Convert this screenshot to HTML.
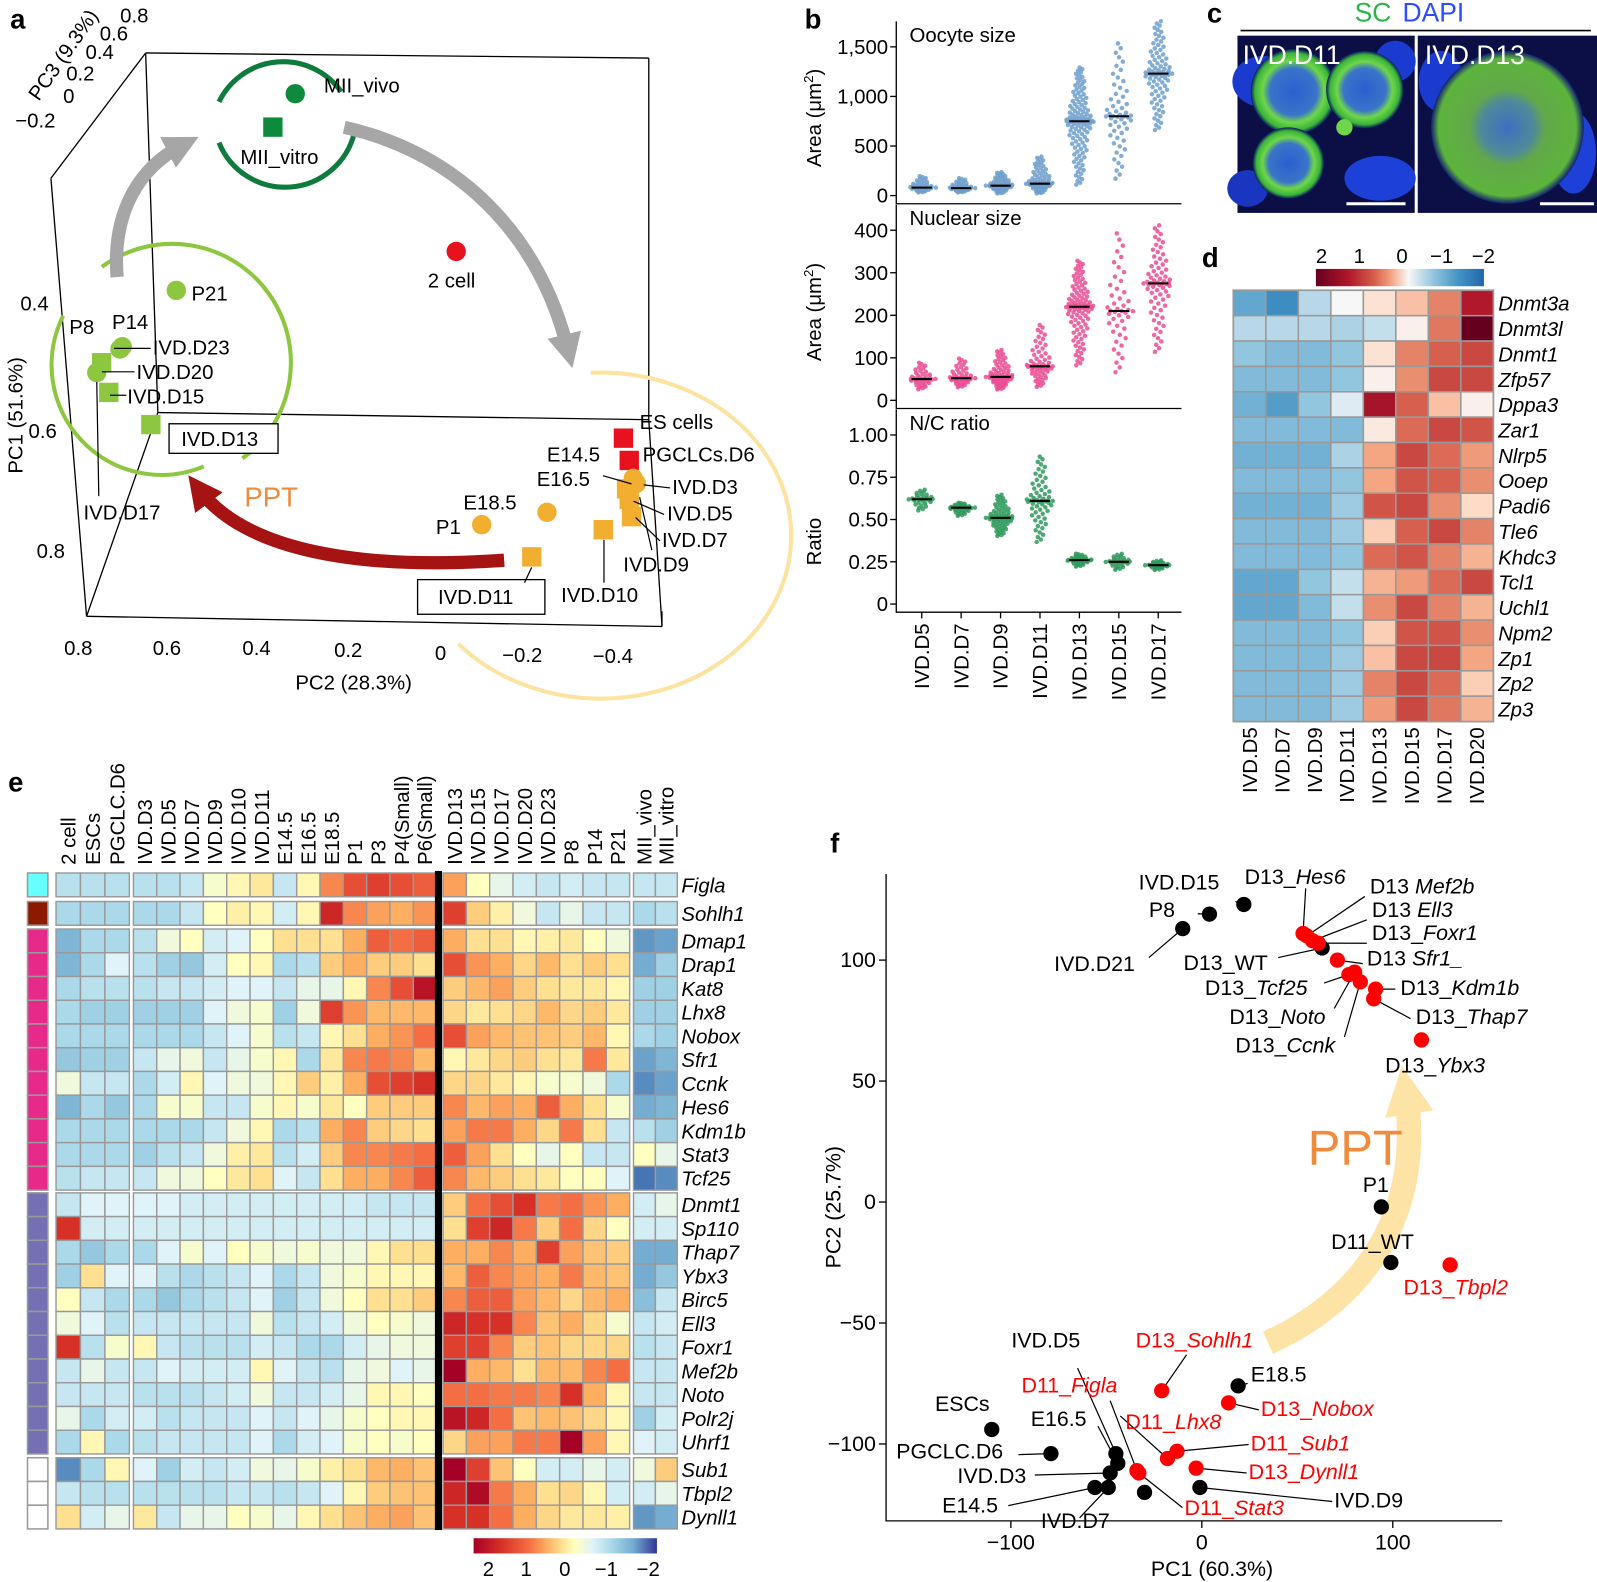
<!DOCTYPE html>
<html><head><meta charset="utf-8">
<style>
html,body{margin:0;padding:0;background:#fff;}
svg{display:block;font-family:"Liberation Sans",Arial,sans-serif;}
</style></head>
<body>
<svg id="fig" width="1597" height="1582" viewBox="0 0 1568 1553" preserveAspectRatio="none" xmlns="http://www.w3.org/2000/svg">
<defs>
<linearGradient id="gradD" x1="0" x2="1" y1="0" y2="0">
<stop offset="0" stop-color="#67001f"/><stop offset="0.2" stop-color="#b2182b"/><stop offset="0.35" stop-color="#d6604d"/><stop offset="0.45" stop-color="#f4a582"/><stop offset="0.55" stop-color="#f7f7f7"/><stop offset="0.7" stop-color="#92c5de"/><stop offset="0.85" stop-color="#4393c3"/><stop offset="1" stop-color="#2166ac"/>
</linearGradient>
<linearGradient id="gradE" x1="0" x2="1" y1="0" y2="0">
<stop offset="0" stop-color="#a50026"/><stop offset="0.15" stop-color="#d73027"/><stop offset="0.3" stop-color="#f46d43"/><stop offset="0.4" stop-color="#fdae61"/><stop offset="0.48" stop-color="#fee090"/><stop offset="0.55" stop-color="#ffffbf"/><stop offset="0.65" stop-color="#e0f3f8"/><stop offset="0.75" stop-color="#abd9e9"/><stop offset="0.87" stop-color="#74add1"/><stop offset="1" stop-color="#313695"/>
</linearGradient>
<radialGradient id="cellG" cx="0.5" cy="0.5" r="0.5"><stop offset="0" stop-color="#2b5fd0"/><stop offset="0.55" stop-color="#3a74c8"/><stop offset="0.72" stop-color="#6fd64a"/><stop offset="0.9" stop-color="#3bb53a"/><stop offset="1" stop-color="#0a1a60"/></radialGradient>
<radialGradient id="bigCell" cx="0.5" cy="0.5" r="0.5"><stop offset="0" stop-color="#3d6fc0"/><stop offset="0.35" stop-color="#4f8a9a"/><stop offset="0.5" stop-color="#62a84a"/><stop offset="0.9" stop-color="#5cb43c"/><stop offset="1" stop-color="#112070"/></radialGradient>
<marker id="arrGray" markerWidth="2.6" markerHeight="2.6" refX="1.3" refY="1.3" orient="auto" markerUnits="strokeWidth"><path d="M0,0 L2.6,1.3 L0,2.6 z" fill="#a6a6a6"/></marker>
<marker id="arrRed" markerWidth="2.6" markerHeight="2.6" refX="1.3" refY="1.3" orient="auto" markerUnits="strokeWidth"><path d="M0,0 L2.6,1.3 L0,2.6 z" fill="#a51313"/></marker>
<marker id="arrYel" markerWidth="2" markerHeight="2" refX="1" refY="1" orient="auto" markerUnits="strokeWidth"><path d="M0,0 L2,1 L0,2 z" fill="#fde3a6"/></marker>
</defs>

<text x="10" y="28" font-size="27" font-weight="bold">a</text>
<text x="790" y="28" font-size="27" font-weight="bold">b</text>
<text x="1185" y="22" font-size="27" font-weight="bold">c</text>
<text x="1180" y="262" font-size="27" font-weight="bold">d</text>
<text x="8" y="777" font-size="27" font-weight="bold">e</text>
<text x="815" y="837" font-size="27" font-weight="bold">f</text>

<g id="panelA" font-size="20">
<g stroke="#000" stroke-width="1.3" fill="none">
<line x1="143" y1="52" x2="637" y2="57"/>
<line x1="637" y1="57" x2="637" y2="412"/>
<line x1="155" y1="405" x2="637" y2="412"/>
<line x1="143" y1="52" x2="155" y2="405"/>
<line x1="50" y1="175" x2="143" y2="52"/>
<line x1="50" y1="175" x2="85" y2="605"/>
<line x1="85" y1="605" x2="650" y2="615"/>
<line x1="85" y1="605" x2="155" y2="405"/>
<line x1="650" y1="615" x2="637" y2="412"/>
</g>
<g font-size="20">
<text x="15" y="125">−0.2</text><text x="62" y="101">0</text><text x="65" y="79">0.2</text><text x="84" y="58">0.4</text><text x="98" y="40">0.6</text><text x="118" y="22">0.8</text>
<text transform="translate(38,100) rotate(-55)">PC3 (9.3%)</text>
</g>
<g>
<text x="20" y="305">0.4</text><text x="28" y="430">0.6</text><text x="36" y="548">0.8</text>
<text transform="translate(22,465) rotate(-90)">PC1 (51.6%)</text>
</g>
<g>
<text x="63" y="643">0.8</text><text x="150" y="643">0.6</text><text x="238" y="643">0.4</text><text x="328" y="645">0.2</text><text x="427" y="648">0</text><text x="493" y="650">−0.2</text><text x="582" y="651">−0.4</text>
<text x="290" y="677">PC2 (28.3%)</text>
</g>
<path d="M215,100 A70,70 0 0 1 335,90 M348,130 A70,70 0 0 1 215,140" stroke="#0e7a3c" stroke-width="5" fill="none"/>
<path d="M100,262 A108,108 0 1 1 238,450 M200,458 A108,108 0 0 1 62,310" stroke="#8dc63f" stroke-width="4" fill="none"/>
<path d="M580,366 A187,160 0 1 1 450,632" stroke="#fde3a0" stroke-width="4" fill="none"/>
<path d="M115,272 C110,210 135,165 180,142" stroke="#a6a6a6" stroke-width="13" fill="none" marker-end="url(#arrGray)"/>
<path d="M338,125 C450,150 530,230 558,345" stroke="#a6a6a6" stroke-width="13" fill="none" marker-end="url(#arrGray)"/>
<path d="M495,550 C350,560 240,540 195,480" stroke="#a51313" stroke-width="13" fill="none" marker-end="url(#arrRed)"/>
<text x="240" y="497" font-size="27" fill="#f08a3c">PPT</text>
<g id="aPoints"></g>
<g id="aLabels">
<text x="318" y="91">MII_vivo</text><text x="236" y="161">MII_vitro</text>
<text x="420" y="282">2 cell</text><text x="188" y="295">P21</text>
<text x="110" y="323">P14</text><text x="68" y="328">P8</text>
<text x="150" y="348">IVD.D23</text><text x="134" y="372">IVD.D20</text><text x="125" y="396">IVD.D15</text>
<rect x="166" y="416" width="107" height="29" fill="#fff" stroke="#000" stroke-width="1.3"/><text x="178" y="438">IVD.D13</text>
<text x="82" y="510">IVD.D17</text>
<text x="628" y="421">ES cells</text><text x="537" y="453">E14.5</text><text x="631" y="453">PGCLCs.D6</text>
<text x="527" y="477">E16.5</text><text x="660" y="485">IVD.D3</text><text x="455" y="500">E18.5</text>
<text x="655" y="511">IVD.D5</text><text x="428" y="524">P1</text><text x="650" y="537">IVD.D7</text>
<text x="612" y="561">IVD.D9</text><text x="551" y="591">IVD.D10</text>
<rect x="410" y="569" width="125" height="34" fill="#fff" stroke="#000" stroke-width="1.3"/><text x="430" y="593">IVD.D11</text>
</g>
<g stroke="#000" stroke-width="1.2">
<line x1="112" y1="342" x2="148" y2="342"/><line x1="100" y1="365" x2="132" y2="365"/><line x1="108" y1="388" x2="124" y2="388"/>
<line x1="95" y1="375" x2="97" y2="487"/><line x1="592" y1="467" x2="620" y2="475"/><line x1="632" y1="476" x2="658" y2="479"/>
<line x1="622" y1="492" x2="652" y2="505"/><line x1="624" y1="508" x2="648" y2="531"/><line x1="628" y1="488" x2="640" y2="540"/>
<line x1="593" y1="530" x2="593" y2="572"/><line x1="522" y1="557" x2="515" y2="572"/><line x1="650" y1="600" x2="650" y2="615"/>
</g>
</g>

<g id="panelB" font-size="20"></g>

<g id="panelC">
<text x="1330" y="21" font-size="26" fill="#2db34a">SC</text>
<text x="1377" y="21" font-size="26" fill="#2b4cff">DAPI</text>
<line x1="1218" y1="30" x2="1562" y2="30" stroke="#000" stroke-width="1.5"/>
<rect x="1215" y="35" width="174" height="174" fill="#0b0f45"/>
<ellipse cx="1240" cy="80" rx="30" ry="25" fill="#1b3bd0"/><ellipse cx="1355" cy="175" rx="35" ry="22" fill="#1d40d8"/><ellipse cx="1225" cy="185" rx="20" ry="18" fill="#1a36c0"/><ellipse cx="1370" cy="60" rx="20" ry="20" fill="#1b3bd0"/>
<circle cx="1270" cy="90" r="42" fill="url(#cellG)"/><circle cx="1340" cy="88" r="38" fill="url(#cellG)"/><circle cx="1265" cy="160" r="35" fill="url(#cellG)"/><circle cx="1320" cy="125" r="8" fill="#6fd64a"/>
<rect x="1392" y="35" width="176" height="174" fill="#0b0f45"/>
<ellipse cx="1415" cy="80" rx="22" ry="30" fill="#1b3bd0"/><ellipse cx="1545" cy="150" rx="22" ry="40" fill="#1d40d8"/>
<circle cx="1480" cy="125" r="75" fill="url(#bigCell)"/>
<text x="1220" y="63" font-size="26" fill="#fff">IVD.D11</text>
<text x="1399" y="63" font-size="26" fill="#fff">IVD.D13</text>
<line x1="1322" y1="200" x2="1380" y2="200" stroke="#fff" stroke-width="3"/>
<line x1="1512" y1="200" x2="1565" y2="200" stroke="#fff" stroke-width="3"/>
</g>

<g id="panelD">
<rect x="1292" y="264" width="165" height="17" fill="url(#gradD)"/>
<g font-size="20"><text x="1292" y="258">2</text><text x="1329" y="258">1</text><text x="1371" y="258">0</text><text x="1404" y="258">−1</text><text x="1445" y="258">−2</text></g>
</g>

<g id="panelE">
<rect x="465" y="1510" width="180" height="15" fill="url(#gradE)"/>
<g font-size="20"><text x="474" y="1547">2</text><text x="511" y="1547">1</text><text x="549" y="1547">0</text><text x="584" y="1547">−1</text><text x="625" y="1547">−2</text></g>
</g>

<g id="panelF" font-size="21">
<path d="M1245,1318 C1330,1280 1400,1200 1380,1070" stroke="#fde3a6" stroke-width="24" fill="none" marker-end="url(#arrYel)"/>
<text x="1284" y="1143" font-size="48" fill="#f08a3c">PPT</text>
</g>
</svg>

<script>
// ---------- Panel A data (PC2, PC1 coordinates) ----------
var aNames=["MII_vivo","MII_vitro","2 cell","P21","P14","IVD.D23","P8","IVD.D20","IVD.D15","IVD.D13","ES cells","PGCLCs.D6","E14.5","IVD.D3","E16.5","IVD.D5","IVD.D7","E18.5","P1","IVD.D9","IVD.D10","IVD.D11"];
var aPC2=[0.326,0.376,-0.034,0.592,0.713,0.718,0.770,0.759,0.743,0.649,-0.408,-0.421,-0.430,-0.437,-0.415,-0.421,-0.426,-0.237,-0.091,-0.363,-0.363,-0.203];
var aPC1=[0.061,0.115,0.316,0.379,0.470,0.474,0.512,0.496,0.544,0.596,0.618,0.654,0.683,0.691,0.700,0.717,0.745,0.738,0.758,0.766,0.766,0.810];
var aShape=["c","s","c","c","c","c","c","s","s","s","s","s","c","c","s","s","s","c","c","s","s","s"];
var aColor=["#0e8a3c","#0e8a3c","#e8121e","#8dc63f","#8dc63f","#8dc63f","#8dc63f","#8dc63f","#8dc63f","#8dc63f","#e8121e","#e8121e","#f2ae2e","#f2ae2e","#f2ae2e","#f2ae2e","#f2ae2e","#f2ae2e","#f2ae2e","#f2ae2e","#f2ae2e","#f2ae2e"];
var NS="http://www.w3.org/2000/svg";
function ax(v){return 433-439*v;}
function ay(v){return 55+607*v;}
var aG=document.getElementById("aPoints");
for(var i=0;i<aNames.length;i++){
  var el;
  if(aShape[i]=="c"){el=document.createElementNS(NS,"circle");el.setAttribute("cx",ax(aPC2[i]));el.setAttribute("cy",ay(aPC1[i]));el.setAttribute("r",9.5);}
  else{el=document.createElementNS(NS,"rect");el.setAttribute("x",ax(aPC2[i])-9.5);el.setAttribute("y",ay(aPC1[i])-9.5);el.setAttribute("width",19);el.setAttribute("height",19);}
  el.setAttribute("fill",aColor[i]);
  
  
  aG.appendChild(el);
}

// ---------- Panel B data ----------
var bGroups=["IVD.D5","IVD.D7","IVD.D9","IVD.D11","IVD.D13","IVD.D15","IVD.D17"];
var oocMin=[30,30,20,20,100,150,650], oocMed=[80,75,100,120,750,800,1230], oocMax=[200,180,240,400,1300,1560,1770], oocN=[45,45,70,75,120,55,85];
var nucMin=[25,30,25,30,80,60,110], nucMed=[50,52,55,80,220,210,275], nucMax=[90,100,120,180,330,400,415], nucN=[40,45,70,60,100,45,70];
var ncMin=[0.55,0.52,0.40,0.36,0.22,0.20,0.20], ncMed=[0.62,0.57,0.51,0.61,0.26,0.25,0.23], ncMax=[0.68,0.60,0.65,0.88,0.30,0.30,0.26], ncN=[30,40,70,60,35,30,30];
var oocTicks=[0,500,1000,1500], oocTickLbl=["0","500","1,000","1,500"];
var nucTicks=[0,100,200,300,400], nucTickLbl=["0","100","200","300","400"];
var ncTicks=[0,0.25,0.5,0.75,1.0], ncTickLbl=["0","0.25","0.50","0.75","1.00"];
var B=document.getElementById("panelB");
function bx(i){return 905+i*38.7;}
function add(parent,tag,attrs){var e=document.createElementNS(NS,tag);for(var k in attrs)e.setAttribute(k,attrs[k]);parent.appendChild(e);return e;}
function subplot(name,title,y0,yTop,vmax,ticks,lbls,mn,md,mx,nn,col,ylab){
  var g=add(B,"g",{});
  
  
  var sy=function(v){return y0-(y0-yTop)*v/vmax;};
  var axl=add(g,"path",{d:"M880,"+(yTop-25)+" L880,"+(y0+8)+" L1160,"+(y0+8),stroke:"#000","stroke-width":1.3,fill:"none"});
  
  
  for(var t=0;t<ticks.length;t++){
    add(g,"line",{x1:874,x2:880,y1:sy(ticks[t]),y2:sy(ticks[t]),stroke:"#000","stroke-width":1.3});
    var tl=add(g,"text",{x:872,y:sy(ticks[t])+7,"text-anchor":"end"});tl.textContent=lbls[t];
    
    
  }
  var tt=add(g,"text",{x:893,y:yTop-5});tt.textContent=title;
  
  
  for(var i=0;i<mn.length;i++){
    var n=nn[i];
    for(var k=0;k<n;k++){
      var u=(k+0.5)/n, v;
      if(u<0.5){v=md[i]-(md[i]-mn[i])*Math.pow((0.5-u)*2,1.8);}else{v=md[i]+(mx[i]-md[i])*Math.pow((u-0.5)*2,1.8);}
      var dens=1-Math.abs(u-0.5)*1.6;
      var jx=(((k*0.61803)%1)-0.5)*30*dens;
      var d=add(g,"circle",{cx:bx(i)+jx,cy:sy(v),r:2.2,fill:col,opacity:0.85});
      
      
    }
    var m=add(g,"line",{x1:bx(i)-10,x2:bx(i)+10,y1:sy(md[i]),y2:sy(md[i]),stroke:"#000","stroke-width":2});
    
    
  }
  var yl=add(g,"text",{transform:"translate(806,"+((y0+yTop)/2+45)+") rotate(-90)"});
  var s1=add(yl,"tspan",{});s1.textContent=ylab[0];
  if(ylab[1]){var s2=add(yl,"tspan",{"font-size":13,dy:-8});s2.textContent="2";var s3=add(yl,"tspan",{dy:8});s3.textContent=")";}
  
  
}
subplot("oocyte-size","Oocyte size",192,46,1500,oocTicks,oocTickLbl,oocMin,oocMed,oocMax,oocN,"#6f9fcc",["Area (μm",true]);
subplot("nuclear-size","Nuclear size",393,226,400,nucTicks,nucTickLbl,nucMin,nucMed,nucMax,nucN,"#ea4c93",["Area (μm",true]);
subplot("nc-ratio","N/C ratio",593,427,1.0,ncTicks,ncTickLbl,ncMin,ncMed,ncMax,ncN,"#2e9a5a",["Ratio",false]);
for(var i=0;i<bGroups.length;i++){
  add(B,"line",{x1:bx(i),x2:bx(i),y1:601,y2:607,stroke:"#000","stroke-width":1.3});
  var xl=add(B,"text",{transform:"translate("+(bx(i)+7)+",612) rotate(-90)","text-anchor":"end"});xl.textContent=bGroups[i];
  
  
}

// ---------- Panel D data ----------
var dCols=["IVD.D5","IVD.D7","IVD.D9","IVD.D11","IVD.D13","IVD.D15","IVD.D17","IVD.D20"];
var dGenes=["Dnmt3a","Dnmt3l","Dnmt1","Zfp57","Dppa3","Zar1","Nlrp5","Ooep","Padi6","Tle6","Khdc3","Tcl1","Uchl1","Npm2","Zp1","Zp2","Zp3"];
var dVals=[
[-1.1,-1.4,-0.5,0,0.15,0.4,0.9,1.8],
[-0.5,-0.5,-0.5,-0.6,-0.4,0.05,1.0,2.4],
[-0.8,-0.9,-0.9,-0.8,0.15,0.9,1.2,1.4],
[-0.9,-0.9,-0.9,-0.8,0.05,0.8,1.4,1.4],
[-1.0,-1.2,-0.8,-0.2,1.9,1.2,0.4,0.05],
[-0.9,-0.9,-0.9,-0.9,0.1,1.1,1.4,1.3],
[-1.0,-1.0,-1.0,-0.6,0.6,1.4,1.1,0.7],
[-0.9,-0.9,-0.9,-0.8,0.6,1.3,1.2,0.8],
[-1.0,-1.0,-1.0,-0.7,1.3,1.4,0.8,0.2],
[-0.9,-0.9,-0.9,-0.7,0.3,1.2,1.4,0.9],
[-0.9,-0.9,-0.9,-0.8,1.1,1.3,0.9,0.5],
[-1.1,-1.1,-0.8,-0.4,0.5,0.7,1.1,1.4],
[-1.1,-1.1,-0.9,-0.4,0.8,1.4,0.9,0.5],
[-0.9,-0.9,-0.9,-0.8,0.3,1.3,1.3,0.8],
[-0.9,-0.9,-0.9,-0.7,0.4,1.4,1.4,0.6],
[-0.9,-0.9,-0.9,-0.7,0.9,1.4,1.1,0.3],
[-0.9,-0.9,-0.9,-0.7,0.7,1.4,1.0,0.5]];
function hex(h){return [parseInt(h.substr(1,2),16),parseInt(h.substr(3,2),16),parseInt(h.substr(5,2),16)];}
function interp(stops,v){
  if(v>=stops[0][0])return stops[0][1];
  for(var i=1;i<stops.length;i++){
    if(v>=stops[i][0]){var a=stops[i-1],b=stops[i];var t=(v-b[0])/(a[0]-b[0]);
      var ca=hex(a[1]),cb=hex(b[1]);
      return "rgb("+Math.round(cb[0]+(ca[0]-cb[0])*t)+","+Math.round(cb[1]+(ca[1]-cb[1])*t)+","+Math.round(cb[2]+(ca[2]-cb[2])*t)+")";}
  }
  return stops[stops.length-1][1];
}
var rdbu=[[2.4,"#67001f"],[1.8,"#b2182b"],[1.2,"#d6604d"],[0.6,"#f4a582"],[0.2,"#fddbc7"],[0,"#f7f7f7"],[-0.3,"#d1e5f0"],[-0.8,"#92c5de"],[-1.3,"#4393c3"],[-2,"#2166ac"]];
var rdylbu=[[2.3,"#a50026"],[1.8,"#d73027"],[1.4,"#f46d43"],[0.9,"#fdae61"],[0.4,"#fee090"],[0,"#ffffbf"],[-0.4,"#e0f3f8"],[-0.8,"#abd9e9"],[-1.3,"#74add1"],[-1.8,"#4575b4"],[-2.2,"#313695"]];
var D=document.getElementById("panelD");
var dx0=1211,dy0=285,dw=31.9,dh=24.9;
add(D,"rect",{x:dx0-1,y:dy0-1,width:dw*8+2,height:dh*17+2,fill:"#bbb"});
for(var r=0;r<dGenes.length;r++){
  for(var c=0;c<dCols.length;c++){
    var cell=add(D,"rect",{x:dx0+c*dw,y:dy0+r*dh,width:dw,height:dh,fill:interp(rdbu,dVals[r][c]),stroke:"#999","stroke-width":1.5});
    
    
  }
  var gl=add(D,"text",{x:1471,y:dy0+r*dh+20,"font-size":20,"font-style":"italic"});gl.textContent=dGenes[r];
  
  
}
for(var c=0;c<dCols.length;c++){
  var cl=add(D,"text",{transform:"translate("+(dx0+c*dw+dw/2+7)+",714) rotate(-90)","text-anchor":"end","font-size":20});cl.textContent=dCols[c];
  
  
}

// ---------- Panel E data ----------
var eCols=["2 cell","ESCs","PGCLC.D6","IVD.D3","IVD.D5","IVD.D7","IVD.D9","IVD.D10","IVD.D11","E14.5","E16.5","E18.5","P1","P3","P4(Small)","P6(Small)","IVD.D13","IVD.D15","IVD.D17","IVD.D20","IVD.D23","P8","P14","P21","MII_vivo","MII_vitro"];
var eGenes=["Figla","Sohlh1","Dmap1","Drap1","Kat8","Lhx8","Nobox","Sfr1","Ccnk","Hes6","Kdm1b","Stat3","Tcf25","Dnmt1","Sp110","Thap7","Ybx3","Birc5","Ell3","Foxr1","Mef2b","Noto","Polr2j","Uhrf1","Sub1","Tbpl2","Dynll1"];
var eGroup=[0,1,2,2,2,2,2,2,2,2,2,2,2,3,3,3,3,3,3,3,3,3,3,3,4,4,4];
var eVals=[
[-0.7,-0.7,-0.7,-0.7,-0.7,-0.6,-0.1,0.1,0.3,-0.6,0.1,1.2,1.6,1.7,1.6,1.5,1.0,0,-0.3,-0.5,-0.6,-0.5,-0.6,-0.6,-0.6,-0.6],
[-0.8,-0.8,-0.8,-0.8,-0.8,-0.6,0,0.2,0.1,-0.5,0.1,1.9,1.2,1.0,0.9,1.1,1.7,0.6,0.2,-0.2,-0.6,-0.3,-0.6,-0.6,-0.8,-0.7],
[-1.2,-0.8,-0.8,-0.7,-0.2,0,-0.5,-0.4,0,0.4,0.4,0.4,0.9,1.5,1.4,1.5,0.9,0.4,0.4,0.1,0.2,0.3,0,-0.2,-1.5,-1.4],
[-1.2,-0.8,-0.4,-0.7,-0.9,-1.0,-0.5,0,0.1,-0.8,-0.7,0.6,0.9,0.6,0.6,0.4,1.6,1.1,0.9,0.5,0.8,0.4,0.6,0.4,-1.3,-0.9],
[-0.8,-0.7,-0.7,-0.7,-0.6,-0.6,-0.5,-0.4,-0.4,-0.6,-0.3,-0.3,0.1,1.2,1.6,2.1,0.6,0.8,1.0,0.6,0.4,0.3,0.3,0.1,-0.9,-0.9],
[-0.8,-0.9,-0.9,-0.9,-0.9,-0.9,-0.4,-0.2,-0.1,-0.9,-0.2,1.7,1.1,0.8,0.8,0.8,0.5,0.3,0.4,0.5,0.8,0.5,0.6,0.3,-0.9,-0.9],
[-0.8,-0.8,-0.8,-0.8,-0.8,-0.8,-0.6,-0.4,-0.1,-0.7,-0.6,0.1,0.4,0.9,1.1,1.4,1.6,1.0,0.8,0.7,0.7,0.6,0.8,0.1,-0.8,-0.9],
[-1.0,-0.9,-0.9,-0.6,-0.3,-0.2,-0.6,-0.3,-0.1,0.1,-0.8,0.3,1.2,1.3,1.2,0.8,0.1,0.3,0.5,0.6,0.4,0.3,1.3,0.3,-1.4,-1.2],
[-0.2,-0.6,-0.6,-0.8,-0.5,0.1,-0.4,-0.2,-0.2,0.1,0.6,0.2,0.9,1.6,1.7,1.8,0.5,0.5,0.3,0.1,-0.1,-0.1,-0.2,-0.8,-1.6,-1.4],
[-1.2,-0.8,-1.0,-0.8,-0.1,-0.1,-0.6,-0.6,-0.1,0.1,-0.1,0.3,0,0.6,0.6,0.6,1.2,0.8,1.0,0.9,1.5,0.9,0.4,-0.1,-1.3,-1.2],
[-0.8,-0.8,-0.8,-0.8,-0.8,-0.8,-0.6,-0.2,0.1,-0.8,-0.7,0.9,1.2,0.6,0.5,0.4,1.0,1.3,1.3,0.9,0.5,1.3,0.4,-0.6,-0.7,-0.9],
[-0.8,-0.8,-0.8,-0.9,-0.7,-0.6,-0.2,0.2,0.3,-0.7,-0.5,0.6,1.2,1.2,1.3,1.4,1.5,1.0,0.4,0,-0.3,0,-0.6,-0.6,0,-0.3],
[-0.7,-0.6,-0.6,-0.6,-0.2,-0.2,0,0.3,0.4,-0.4,-0.6,0.4,0.9,0.9,1.2,1.5,1.2,0.8,0.6,0.4,0.3,0,0,-0.4,-1.8,-1.6],
[-0.6,-0.4,-0.4,-0.4,-0.4,-0.5,-0.5,-0.5,-0.5,-0.5,-0.5,-0.5,-0.5,-0.6,-0.6,-0.6,0.6,1.4,1.6,1.8,1.3,1.4,1.1,0.9,-0.5,-0.3],
[1.8,-0.5,-0.5,-0.5,-0.5,-0.5,-0.5,-0.5,-0.5,-0.5,-0.5,-0.5,-0.5,-0.5,-0.5,-0.5,0.4,1.7,1.9,1.3,0.6,1.4,0.5,0,-0.5,-0.5],
[-0.8,-1.0,-0.8,-0.8,-0.4,-0.1,-0.4,0,-0.1,-0.2,-0.1,-0.2,-0.2,0.1,0.4,0.4,0.9,0.9,1.2,0.9,1.7,1.0,0.7,0.6,-1.3,-1.3],
[-0.9,0.4,-0.4,-0.4,-0.7,-0.8,-0.7,-0.6,-0.4,-0.8,-0.6,-0.2,-0.1,0.1,0.1,0.1,0.8,1.5,1.2,1.0,0.9,1.3,0.8,0.7,-1.3,-1.0],
[0,-0.6,-0.8,-0.8,-1.0,-0.8,-0.7,-0.6,-0.4,-0.9,-0.6,-0.2,0,0.4,0.4,0.6,1.2,1.5,1.5,1.0,0.8,0.5,0.8,0.9,-1.1,-0.6],
[-0.2,-0.4,-0.7,-0.6,-0.6,-0.6,-0.6,-0.6,-0.2,-0.7,-0.6,-0.5,-0.2,0,-0.1,-0.2,1.9,1.8,1.8,1.2,0.7,0.9,0.5,-0.1,-0.6,-0.5],
[1.8,-0.7,-0.1,0.1,-0.6,-0.7,-0.7,-0.7,-0.5,-0.6,-0.8,-0.8,-0.5,-0.3,-0.2,-0.2,1.7,1.7,1.2,0.6,0.7,0.5,0.5,0.5,-0.7,-0.6],
[-0.6,-0.3,-0.6,-0.6,-0.4,-0.5,-0.5,-0.5,0.1,-0.4,-0.6,-0.7,-0.3,-0.2,-0.4,-0.3,2.3,0.9,0.8,0.4,0.8,0.8,1.2,1.4,-0.6,-0.6],
[-0.6,-0.6,-0.6,-0.7,-0.7,-0.7,-0.6,-0.5,-0.2,-0.6,-0.6,-0.5,-0.3,0.1,0.1,0,1.4,1.4,1.3,1.3,1.2,1.8,0.9,0.1,-0.6,-0.6],
[-0.3,-0.8,-0.5,-0.5,-0.7,-0.6,-0.6,-0.6,-0.4,-0.6,-0.4,-0.3,-0.1,0,0.1,0.1,2.1,1.9,1.4,0.7,0.8,0.7,0.5,0.1,-0.9,-0.5],
[-0.8,0.1,-0.8,-0.7,-0.6,-0.6,-0.6,-0.6,-0.4,-0.8,-0.5,-0.4,-0.1,0,-0.1,0,0.5,1.0,1.0,1.3,1.3,2.3,1.0,0.1,-0.4,-0.5],
[-1.6,-0.8,0.1,-0.4,-0.9,-0.5,-0.6,-0.5,-0.2,-0.3,-0.1,0.2,0.4,0.8,0.9,0.7,2.3,1.7,0.7,0,-0.5,-0.5,-0.3,-0.5,-0.2,0.6],
[-0.6,-0.7,-0.7,-0.7,-0.7,-0.7,-0.7,-0.6,-0.6,-0.7,-0.6,-0.4,0.1,0.6,0.7,0.7,1.9,2.2,1.3,0.9,0.4,0.5,0.1,-0.5,-0.5,-0.3],
[0.4,-0.5,-0.3,0.3,-0.6,-0.3,-0.3,0,-0.1,-0.3,0.1,0.4,0.7,0.9,1.0,0.7,1.8,1.8,1.4,0.9,0.5,0.3,0.3,0.2,-1.5,-1.3]];
var groupColors=["#66ffff","#8b1a00","#e7298a","#7570b3","#ffffff"];
var E=document.getElementById("panelE");
function ecx(c){ if(c<3)return 55+c*24; if(c<16)return 131+(c-3)*22.9; if(c<24)return 435+(c-16)*22.9; return 622+(c-24)*21.5;}
function ecw(c){ if(c<3)return 24; if(c<24)return 22.9; return 21.5;}
var rowH=23.3;
function ery(r){ if(r==0)return 857; if(r==1)return 885; if(r<13)return 912+(r-2)*rowH; if(r<24)return 1171+(r-13)*rowH; return 1431+(r-24)*rowH;}
for(var r=0;r<eGenes.length;r++){
  var y=ery(r);
  var sb=add(E,"rect",{x:27,y:y,width:20,height:rowH,fill:groupColors[eGroup[r]],stroke:"#999","stroke-width":1.5});
  
  
  for(var c=0;c<eCols.length;c++){
    var cell=add(E,"rect",{x:ecx(c),y:y,width:ecw(c),height:rowH,fill:interp(rdylbu,eVals[r][c]),stroke:"#999","stroke-width":1.4});
    
    
  }
  var gl=add(E,"text",{x:669,y:y+19,"font-size":20,"font-style":"italic"});gl.textContent=eGenes[r];
  
  
}
var bl=add(E,"rect",{x:427,y:855,width:7,height:647,fill:"#000"});


for(var c=0;c<eCols.length;c++){
  var cl=add(E,"text",{transform:"translate("+(ecx(c)+ecw(c)/2+7)+",849) rotate(-90)","font-size":20});cl.textContent=eCols[c];
  
  
}

// ---------- Panel F data ----------
var fNames=["IVD.D15","P8","IVD.D21","D13_WT","P1","D11_WT","ESCs","PGCLC.D6","IVD.D5","IVD.D3","E16.5","E14.5","IVD.D7","E18.5","IVD.D9","IVD.D7b",
"D13_Hes6","D13_Mef2b","D13_Ell3","D13_Foxr1","D13_Sfr1","D13_Tcf25","D13_Noto","D13_Kdm1b","D13_Thap7","D13_Ccnk","D13_Ybx3","D13_Tbpl2","D13_Sohlh1","D13_Nobox","D11_Lhx8","D11_Sub1","D13_Dynll1","D11_Stat3","D11_Figla"];
var fPC1=[22,4,-10,63,94,99,-110,-79,-45,-48,-44,-56,-49,19,-1,-30, 53,55,58,61,71,77,80,91,90,83,115,130,-21,14,-18,-13,-3,-33,-34];
var fPC2=[123,119,113,105,-2,-25,-94,-104,-104,-112,-108,-118,-118,-76,-118,-120, 111,110,108,107,100,94,95,88,84,91,67,-26,-78,-83,-106,-103,-110,-112,-111];
var fColor=["#000","#000","#000","#000","#000","#000","#000","#000","#000","#000","#000","#000","#000","#000","#000","#000","#f00","#f00","#f00","#f00","#f00","#f00","#f00","#f00","#f00","#f00","#f00","#f00","#f00","#f00","#f00","#f00","#f00","#f00","#f00"];
var fXTicks=[-100,0,100], fYTicks=[100,50,0,-50,-100];
var fXTickLbl=["−100","0","100"], fYTickLbl=["100","50","0","−50","−100"];
function fx(v){return 1180+1.875*v;}
function fy(v){return 1180-2.375*v;}
var F=document.getElementById("panelF");
var fa=add(F,"path",{d:"M870,858 L870,1493 L1475,1493",stroke:"#000","stroke-width":1.3,fill:"none"});


for(var t=0;t<fXTicks.length;t++){
  add(F,"line",{x1:fx(fXTicks[t]),x2:fx(fXTicks[t]),y1:1493,y2:1500,stroke:"#000","stroke-width":1.3});
  var tl=add(F,"text",{x:fx(fXTicks[t]),y:1521,"text-anchor":"middle"});tl.textContent=fXTickLbl[t];
  
  
}
for(var t=0;t<fYTicks.length;t++){
  add(F,"line",{x1:863,x2:870,y1:fy(fYTicks[t]),y2:fy(fYTicks[t]),stroke:"#000","stroke-width":1.3});
  var tl=add(F,"text",{x:860,y:fy(fYTicks[t])+7,"text-anchor":"end"});tl.textContent=fYTickLbl[t];
  
  
}
var xt=add(F,"text",{x:1190,y:1547,"text-anchor":"middle"});xt.textContent="PC1 (60.3%)";


var yt=add(F,"text",{transform:"translate(825,1185) rotate(-90)","text-anchor":"middle"});yt.textContent="PC2 (25.7%)";


var fLab=[
[0,"IVD.D15","",1118,873,1213,885,"#000"],[16,"D13_","Hes6",1222,868,1282,872,"#000"],[17,"D13  ","Mef2b",1345,877,1340,880,"#000"],
[18,"D13  ","Ell3",1347,900,1342,903,"#000"],[19,"D13_","Foxr1",1347,923,1342,926,"#000"],[1,"P8","",1128,900,1176,897,"#000"],
[2,"IVD.D21","",1035,953,1128,940,"#000"],[3,"D13_WT","",1162,952,1255,940,"#000"],[20,"D13 ","Sfr1_",1342,948,1338,946,"#000"],
[21,"D13_","Tcf25",1183,977,1300,965,"#000"],[23,"D13_","Kdm1b",1375,977,1370,971,"#000"],[22,"D13_","Noto",1207,1005,1310,990,"#000"],
[24,"D13_","Thap7",1390,1005,1385,1000,"#000"],[25,"D13_","Ccnk",1213,1033,1320,1018,"#000"],[26,"D13_","Ybx3",1360,1053,-1,0,"#000"],
[4,"P1","",1338,1170,-1,0,"#000"],[5,"D11_WT","",1307,1226,-1,0,"#000"],[27,"D13_","Tbpl2",1378,1271,-1,0,"#f00"],
[8,"IVD.D5","",993,1323,1058,1343,"#000"],[28,"D13_","Sohlh1",1115,1323,1165,1330,"#f00"],[13,"E18.5","",1228,1356,1225,1358,"#000"],
[34,"D11_","Figla",1003,1367,1090,1375,"#f00"],[6,"ESCs","",918,1385,-1,0,"#000"],[10,"E16.5","",1012,1400,1078,1400,"#000"],
[30,"D11_","Lhx8",1105,1403,1100,1390,"#f00"],[29,"D13_","Nobox",1238,1390,1236,1384,"#f00"],[31,"D11_","Sub1",1228,1424,1226,1418,"#f00"],
[7,"PGCLC.D6","",880,1432,1000,1428,"#000"],[32,"D13_","Dynll1",1226,1452,1224,1446,"#f00"],[9,"IVD.D3","",940,1456,1016,1448,"#000"],
[11,"E14.5","",925,1485,990,1478,"#000"],[33,"D11_","Stat3",1163,1487,1161,1480,"#f00"],[14,"IVD.D9","",1310,1480,1308,1474,"#000"],
[12,"IVD.D7","",1022,1500,1060,1490,"#000"]];
for(var i=0;i<fLab.length;i++){
  var L=fLab[i];
  if(L[5]>0){
    var ln=add(F,"line",{x1:fx(fPC1[L[0]]),y1:fy(fPC2[L[0]]),x2:L[5],y2:L[6],stroke:"#000","stroke-width":1.2});
    
    
  }
}
for(var i=0;i<fNames.length;i++){
  var p=add(F,"circle",{cx:fx(fPC1[i]),cy:fy(fPC2[i]),r:7.5,fill:fColor[i]});
  
  
}
for(var i=0;i<fLab.length;i++){
  var L=fLab[i];
  var t=add(F,"text",{x:L[3],y:L[4],fill:L[7]});
  
  
  var s1=add(t,"tspan",{});s1.textContent=L[1];
  if(L[2]){var s2=add(t,"tspan",{"font-style":"italic"});s2.textContent=L[2];}
}
</script>
</body></html>
